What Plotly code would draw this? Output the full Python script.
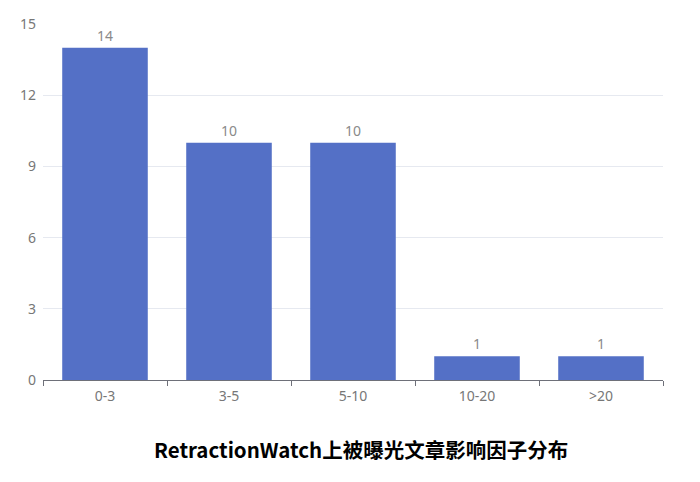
import plotly.graph_objects as go

categories = ["0-3", "3-5", "5-10", "10-20", ">20"]
counts = [14, 10, 10, 1, 1]
y_ticks = [0, 3, 6, 9, 12, 15]
title_text = "RetractionWatch上被曝光文章影响因子分布"

fig = go.Figure(go.Bar(
    x=categories, y=counts,
    marker=dict(color="#5470c6", line=dict(width=0)),
    text=[str(c) for c in counts], textposition="outside",
    textfont=dict(color="#8a8a8a", size=14, family="Noto Sans"),
    cliponaxis=False,
))

fig.update_layout(
    width=700, height=482, autosize=False,
    margin=dict(l=35, r=45, t=16, b=110, autoexpand=False),
    plot_bgcolor="white", paper_bgcolor="white",
    bargap=0.31,
    showlegend=False,
    font=dict(family="Noto Sans", color="#6e7079", size=14),
    annotations=[dict(
        text="<b>" + title_text + "</b>", xref="paper", yref="paper",
        x=0.513, y=-0.194, xanchor="center", yanchor="middle", showarrow=False,
        font=dict(size=20.5, color="#000000", family="Noto Sans CJK SC"),
    )],
)
fig.update_xaxes(
    type="category", showline=True, linecolor="#6e7079", linewidth=1,
    ticks="outside", ticklen=5, tickcolor="#6e7079", tickson="boundaries",
    showgrid=False, tickfont=dict(size=14, color="#777777"), automargin=False,
    ticklabelstandoff=3,
)
fig.update_yaxes(
    range=[0, 15], tickvals=y_ticks, showgrid=True, gridcolor="#e6e9f0",
    zeroline=False, showline=False, ticks="", ticklabelstandoff=6,
    tickfont=dict(size=14, color="#777777"), automargin=False,
)

fig.write_html("out.html")
